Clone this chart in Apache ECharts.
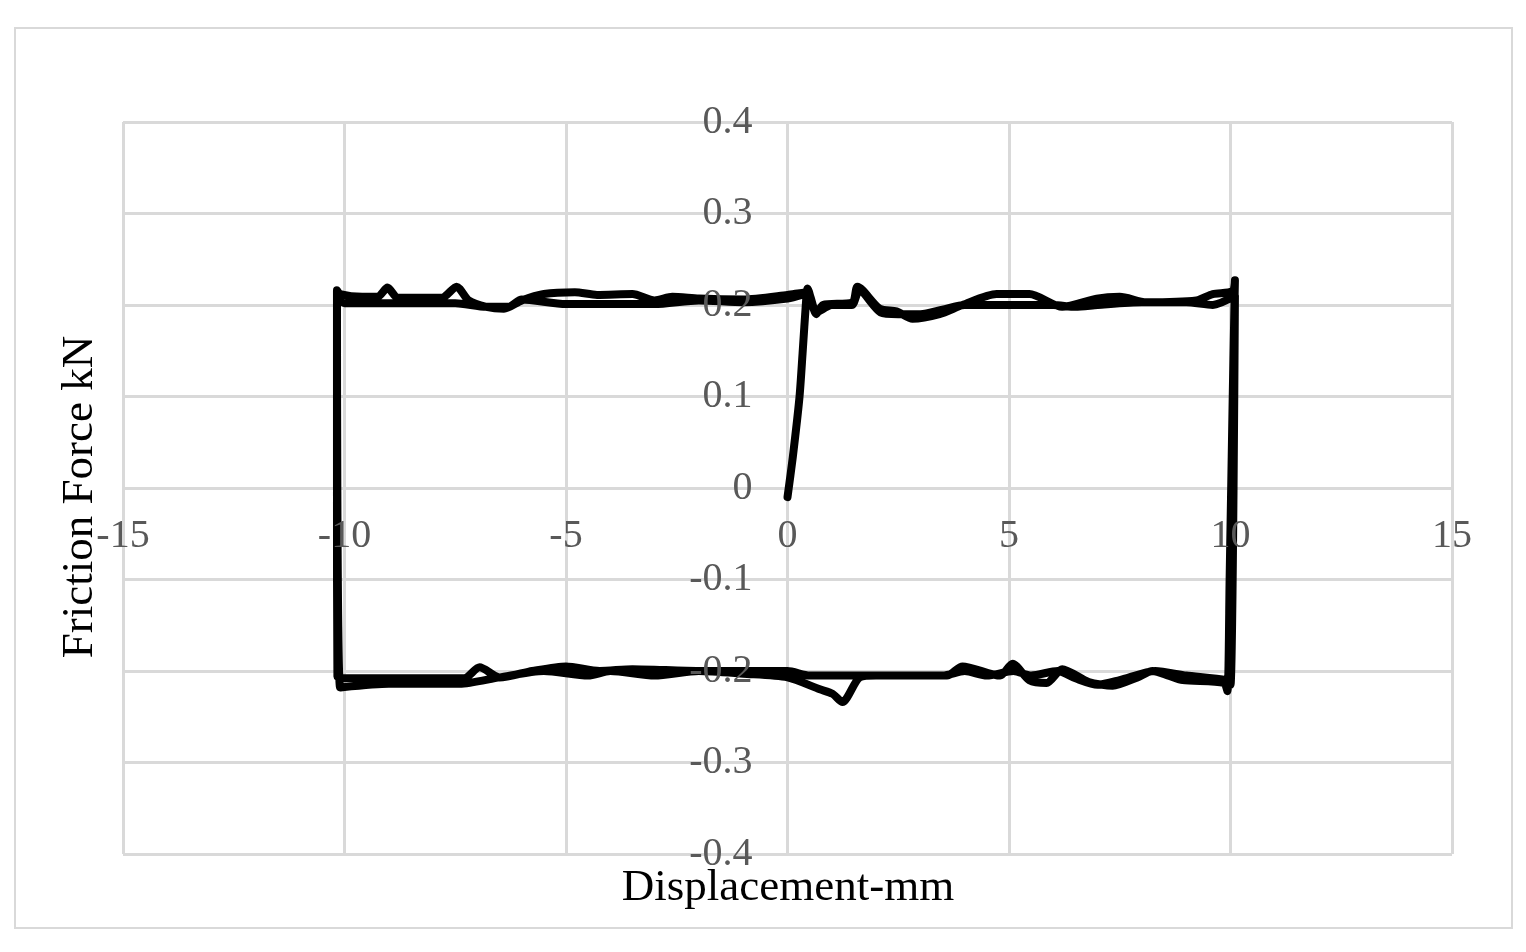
<!DOCTYPE html>
<html>
<head>
<meta charset="utf-8">
<script src="https://cdn.jsdelivr.net/npm/echarts@6/dist/echarts.min.js"></script>
<style>
html,body{margin:0;padding:0;background:#fff;}
#c{width:1526px;height:952px;}
</style>
</head>
<body>
<div id="c"></div>
<script>
// Displacement (mm) / friction force (kN), path in drawing order
const loadingPath = [[0,-0.01],[0.12,0.034],[0.27,0.099],[0.34,0.147],[0.42,0.205]];
const top1 = [[0.45,0.218],[0.65,0.19],[0.8,0.2],[1.47,0.203],[1.58,0.22],[2.08,0.196],[2.46,0.193],[2.82,0.185],[3.43,0.19],[3.95,0.2],[4.72,0.212],[5.46,0.212],[6.2,0.198],[6.98,0.207],[7.5,0.209],[8.1,0.203],[9.23,0.205],[9.6,0.212],[10.05,0.215],[10.1,0.227]];
const down1 = [[10.05,0.1],[9.98,-0.1],[9.93,-0.222]];
const bottom1 = [[9.85,-0.213],[8.92,-0.21],[8.6,-0.205],[8.24,-0.2],[7.9,-0.207],[7.34,-0.216],[6.8,-0.212],[6.2,-0.198],[5.85,-0.213],[5.46,-0.21],[5.08,-0.192],[4.8,-0.205],[3.95,-0.195],[3.6,-0.205],[1.63,-0.205],[0.5,-0.205],[0,-0.2],[-1.0,-0.2],[-2,-0.2],[-3.5,-0.198],[-4.24,-0.2],[-5,-0.195],[-5.76,-0.2],[-6.5,-0.207],[-6.95,-0.196],[-7.3,-0.208],[-8,-0.208],[-9,-0.208],[-10.0,-0.208],[-10.16,-0.206]];
const up1 = [[-10.17,0],[-10.17,0.216]];
const top2 = [[-10.1,0.212],[-9.6,0.209],[-9.25,0.209],[-9.03,0.219],[-8.8,0.208],[-7.8,0.208],[-7.47,0.22],[-7.2,0.205],[-6.8,0.198],[-6.4,0.196],[-6,0.205],[-5.5,0.212],[-4.8,0.214],[-4.3,0.211],[-3.5,0.212],[-3.0,0.205],[-2.6,0.209],[-2,0.207],[-1,0.206],[0,0.211],[0.45,0.214],[0.65,0.192],[1.0,0.2],[1.45,0.2],[1.62,0.216],[2.1,0.192],[2.5,0.19],[3.0,0.19],[3.5,0.195],[4.0,0.2],[5,0.2],[6.0,0.2],[6.5,0.198],[7.0,0.2],[8.0,0.203],[9,0.203],[9.6,0.2],[10.1,0.21]];
const down2 = [[10.0,-0.215]];
const bottom2 = [[9.9,-0.21],[9,-0.205],[8.3,-0.2],[7.5,-0.21],[7.0,-0.215],[6.5,-0.208],[6.1,-0.2],[5.5,-0.205],[5.1,-0.2],[4.5,-0.205],[4.0,-0.2],[3.5,-0.205],[2,-0.205],[1.63,-0.207],[1.24,-0.234],[1.02,-0.225],[0.73,-0.22],[0,-0.207],[-1,-0.203],[-2,-0.2],[-3,-0.205],[-4,-0.2],[-4.5,-0.205],[-5.5,-0.2],[-6.5,-0.207],[-7.4,-0.214],[-8,-0.214],[-9,-0.214],[-10.1,-0.218]];
const up2 = [[-10.17,0.21]];
const top3 = [[-10,0.202],[-9,0.202],[-7.5,0.202],[-6.8,0.198],[-6.3,0.198],[-6,0.206],[-5,0.201],[-4,0.201],[-3,0.201],[-2,0.205],[-1,0.203],[0,0.207],[0.4,0.212]];

const xTicks = {min:-15, max:15, interval:5};
const yTicks = {min:-0.4, max:0.4, interval:0.1};
const xTitle = 'Displacement-mm';
const yTitle = 'Friction Force kN';

const pathData = [].concat(loadingPath, top1, down1, bottom1, up1, top2, down2, bottom2, up2, top3);

const serif = '"Liberation Serif", "Times New Roman", serif';
const gridColor = '#d9d9d9';
const labelStyle = {color:'#595959', fontFamily:serif, fontSize:40};

const G = {left:123, right:74, top:122, bottom:98};
const plotW = 1526 - G.left - G.right;
const plotH = 952 - G.top - G.bottom;
// label axes are shifted to the zero crossing (Excel style)
const xLabelOffset = -plotH * (0 - yTicks.min) / (yTicks.max - yTicks.min);
const yLabelOffset = -plotW * (0 - xTicks.min) / (xTicks.max - xTicks.min);

const chart = echarts.init(document.getElementById('c'));
chart.setOption({
  animation:false,
  backgroundColor:'#fff',
  grid:{left:G.left, right:G.right, top:G.top, bottom:G.bottom, containLabel:false},
  xAxis:[
    {type:'value', min:xTicks.min, max:xTicks.max, interval:xTicks.interval, z:0,
     axisLine:{show:false, onZero:false}, axisTick:{show:false}, axisLabel:{show:false},
     splitLine:{show:true, lineStyle:{color:gridColor, width:3}}},
    {type:'value', min:xTicks.min, max:xTicks.max, interval:xTicks.interval, z:10, position:'bottom',
     offset:xLabelOffset,
     axisLine:{show:false, onZero:false}, axisTick:{show:false}, splitLine:{show:false},
     axisLabel:Object.assign({margin:28, formatter: v => String(Math.round(v))}, labelStyle)}
  ],
  yAxis:[
    {type:'value', min:yTicks.min, max:yTicks.max, interval:yTicks.interval, z:0,
     axisLine:{show:false, onZero:false}, axisTick:{show:false}, axisLabel:{show:false},
     splitLine:{show:true, lineStyle:{color:gridColor, width:3}}},
    {type:'value', min:yTicks.min, max:yTicks.max, interval:yTicks.interval, z:10, position:'left',
     offset:yLabelOffset,
     axisLine:{show:false, onZero:false}, axisTick:{show:false}, splitLine:{show:false},
     axisLabel:Object.assign({margin:35, formatter: v => String(Math.round(v*10)/10)}, labelStyle)}
  ],
  series:[{
    type:'line', xAxisIndex:0, yAxisIndex:0, data:pathData, showSymbol:false, smooth:0.25, z:2,
    lineStyle:{color:'#000', width:8, join:'round', cap:'round'}
  }],
  graphic:[
    {type:'rect', shape:{x:15, y:28, width:1497, height:900}, style:{fill:'none', stroke:gridColor, lineWidth:2}, z:-1},
    {type:'text', x:788, y:888, style:{text:xTitle, fill:'#000', font:'45px '+serif, textAlign:'center', textVerticalAlign:'middle'}},
    {type:'text', x:80, y:497, rotation:Math.PI/2, style:{text:yTitle, fill:'#000', font:'45px '+serif, textAlign:'center', textVerticalAlign:'middle'}}
  ]
});
</script>
</body>
</html>
